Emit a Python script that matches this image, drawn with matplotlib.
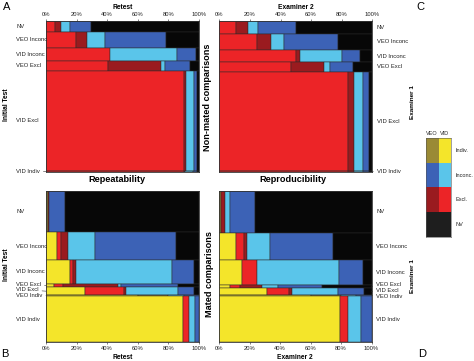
import matplotlib
matplotlib.use('Agg')
import matplotlib.pyplot as plt
import matplotlib.transforms as mtransforms
import numpy as np

plt.rcParams['font.family'] = ['Liberation Sans', 'DejaVu Sans']

# ---------------- data ----------------
categories = ['VID Indiv', 'VEO Indiv', 'VID Excl', 'VEO Excl', 'VID Inconc', 'VEO Inconc', 'NV']
cat_colors = ['#f4e52a', '#9a8a35', '#ec2427', '#9a1b1f', '#5ac5ea', '#3c62b6', '#070707']

nonmated_rows = ['NV', 'VEO Inconc', 'VID Inconc', 'VEO Excl', 'VID Excl', 'VID Indiv']
mated_rows = ['NV', 'VEO Inconc', 'VID Inconc', 'VEO Excl', 'VID Excl', 'VEO Indiv', 'VID Indiv']

# relative row sizes (share of initial-test / examiner-1 decisions)
rep_nonmated_sizes = [33, 50, 38, 29, 301, 4]
repro_nonmated_sizes = [40, 48, 37, 28, 300, 2]
rep_mated_sizes = [125, 83, 72, 10, 23, 3, 139]
repro_mated_sizes = [126, 82, 75, 10, 20, 3, 139]

# percentage of each row going to each category (columns follow `categories`)
rep_nonmated_pct = [
    [0, 0, 5.7, 4.1, 6.1, 13.4, 70.7],
    [0, 0, 19.3, 7.4, 12.0, 39.8, 21.5],
    [0, 0, 42.0, 0, 43.4, 12.4, 2.2],
    [0, 0, 40.2, 35.0, 2.6, 16.3, 5.9],
    [0, 0, 90.4, 1.1, 5.2, 2.2, 1.1],
    [0, 0, 90.0, 1.0, 5.0, 3.0, 1.0],
]
repro_nonmated_pct = [
    [0, 0, 10.9, 8.1, 6.5, 24.4, 50.1],
    [0, 0, 24.8, 8.8, 8.9, 35.3, 22.2],
    [0, 0, 49.9, 2.8, 27.3, 12.0, 8.0],
    [0, 0, 46.8, 21.8, 3.7, 14.8, 12.9],
    [0, 0, 83.9, 4.3, 5.9, 3.9, 2.0],
    [0, 0, 84.0, 4.0, 6.0, 4.0, 2.0],
]
rep_mated_pct = [
    [0, 1.0, 0, 1.0, 0, 10.4, 87.6],
    [7.4, 0, 2.2, 4.6, 17.9, 53.1, 14.8],
    [15.9, 0, 1.7, 2.2, 62.8, 14.4, 3.0],
    [5.2, 0, 6.2, 35.6, 2.0, 37.0, 14.0],
    [25.5, 0, 25.2, 1.7, 33.6, 10.5, 3.5],
    [60.0, 20.0, 0, 0, 10.0, 10.0, 0],
    [89.5, 0, 3.7, 0, 4.0, 2.8, 0],
]
repro_mated_pct = [
    [0, 1.1, 0, 2.6, 3.3, 16.6, 76.4],
    [11.2, 0, 5.2, 2.2, 15.0, 41.0, 25.4],
    [15.2, 0, 9.4, 0, 54.0, 15.9, 5.5],
    [7.0, 0, 6.7, 14.2, 11.0, 28.8, 32.3],
    [31.4, 0, 14.6, 1.8, 30.2, 17.0, 5.0],
    [60.0, 20.0, 0, 0, 10.0, 10.0, 0],
    [79.6, 0, 5.0, 0, 8.2, 7.2, 0],
]

xticks = [0, 20, 40, 60, 80, 100]
xticklabels = ['0%', '20%', '40%', '60%', '80%', '100%']

legend_levels = ['Indiv.', 'Inconc.', 'Excl.', 'NV']
legend_veo = ['#9a8a35', '#3c62b6', '#9a1b1f', '#1e1e1e']
legend_vid = ['#f4e52a', '#5ac5ea', '#ec2427', '#1e1e1e']

# ---------------- figure ----------------
W, H = 474, 361
fig = plt.figure(figsize=(W / 100, H / 100), dpi=100)


def px_axes(x0, y0, x1, y1):
    return fig.add_axes([x0 / W, 1 - y1 / H, (x1 - x0) / W, (y1 - y0) / H])


def mosaic(ax, rows, sizes, pct, top, xlabel, label_side, ax_h_px):
    sizes = np.array(sizes, dtype=float)
    fr = sizes / sizes.sum()
    edges = np.concatenate([[0], np.cumsum(fr)])
    centers = (edges[:-1] + edges[1:]) / 2
    # label positions: spread groups of thin rows
    tiny = fr < 0.055
    label_y = centers.copy()
    spacing = 5.7 / ax_h_px
    i = 0
    while i < len(rows):
        if tiny[i]:
            j = i
            while j + 1 < len(rows) and tiny[j + 1]:
                j += 1
            m = j - i + 1
            if m > 1:
                gc = (edges[i] + edges[j + 1]) / 2
                for k in range(m):
                    label_y[i + k] = gc + (k - (m - 1) / 2) * spacing
            i = j + 1
        else:
            i += 1

    trans = mtransforms.blended_transform_factory(ax.transAxes, ax.transData)
    for i, row in enumerate(rows):
        vals = np.array(pct[i], dtype=float)
        vals = vals / vals.sum() * 100
        left = 0.0
        for j, v in enumerate(vals):
            if v > 0:
                ax.barh(centers[i], v, height=fr[i], left=left, color=cat_colors[j],
                        edgecolor='#2b2b2b', linewidth=0.35)
            left += v
        tx = -0.196 if label_side == 'left' else 1.03
        if tiny[i]:
            ax.annotate(row, xy=(0 if label_side == 'left' else 1, centers[i]), xycoords=trans,
                        xytext=(tx, label_y[i]), textcoords=trans, ha='left', va='center',
                        fontsize=4.2, color='#222222', annotation_clip=False,
                        arrowprops=dict(arrowstyle='-', lw=0.4, color='#333333',
                                        shrinkA=0.5, shrinkB=0))
        else:
            ax.text(tx, label_y[i], row, transform=trans, ha='left', va='center',
                    fontsize=4.2, color='#222222')
    ax.set_xlim(0, 100)
    ax.set_ylim(1, 0)
    ax.set_yticks([])
    ax.set_xticks(xticks)
    ax.set_xticklabels(xticklabels)
    ax.tick_params(axis='x', labelsize=4.2, length=1.5, width=0.4, pad=1.5,
                   colors='#222222')
    if top:
        ax.xaxis.tick_top()
        ax.xaxis.set_label_position('top')
    ax.set_xlabel(xlabel, fontsize=4.8, fontweight='bold', labelpad=2)
    for s in ax.spines.values():
        s.set_linewidth(0.6)
        s.set_color('#333333')


axA = px_axes(46, 20.7, 199, 172)
axC = px_axes(219.3, 20.7, 372.3, 172)
axB = px_axes(46, 190.7, 199, 342.3)
axD = px_axes(219, 190.7, 371.5, 342.3)

mosaic(axA, nonmated_rows, rep_nonmated_sizes, rep_nonmated_pct, True, 'Retest', 'left', 151.3)
mosaic(axC, nonmated_rows, repro_nonmated_sizes, repro_nonmated_pct, True, 'Examiner 2', 'right', 151.3)
mosaic(axB, mated_rows, rep_mated_sizes, rep_mated_pct, False, 'Retest', 'left', 151.6)
mosaic(axD, mated_rows, repro_mated_sizes, repro_mated_pct, False, 'Examiner 2', 'right', 151.6)


def ftext(x, y, s, **kw):
    fig.text(x / W, 1 - y / H, s, **kw)


ftext(117, 180, 'Repeatability', ha='center', va='center', fontsize=6.6, fontweight='bold')
ftext(293, 180, 'Reproducibility', ha='center', va='center', fontsize=6.6, fontweight='bold')
ftext(208, 97, 'Non-mated comparisons', ha='center', va='center', rotation=90,
      fontsize=6.6, fontweight='bold')
ftext(209, 274, 'Mated comparisons', ha='center', va='center', rotation=90,
      fontsize=6.6, fontweight='bold')
ftext(7, 105, 'Initial Test', ha='center', va='center', rotation=90, fontsize=4.8, fontweight='bold')
ftext(7, 265, 'Initial Test', ha='center', va='center', rotation=90, fontsize=4.8, fontweight='bold')
ftext(413, 102, 'Examiner 1', ha='center', va='center', rotation=90, fontsize=4.6, fontweight='bold')
ftext(413, 276, 'Examiner 1', ha='center', va='center', rotation=90, fontsize=4.6, fontweight='bold')
ftext(6.5, 7.5, 'A', ha='center', va='center', fontsize=8)
ftext(5, 354, 'B', ha='center', va='center', fontsize=8)
ftext(420, 7.5, 'C', ha='center', va='center', fontsize=8)
ftext(422, 354, 'D', ha='center', va='center', fontsize=8)

# legend grid
axL = px_axes(426, 138, 451, 237)
n = len(legend_levels)
for i, lvl in enumerate(legend_levels):
    b = n - 1 - i
    if lvl == 'NV':
        axL.bar([0.5], [1], width=2, bottom=b, color=legend_veo[i], edgecolor='none')
    else:
        axL.bar([0, 1], [1, 1], width=1, bottom=b,
                color=[legend_veo[i], legend_vid[i]], edgecolor='none')
    axL.text(1.85, b + 0.5, lvl, ha='left', va='center', fontsize=4, color='#222222')
axL.text(0, n + 0.08, 'VEO', ha='center', va='bottom', fontsize=4, color='#222222')
axL.text(1, n + 0.08, 'VID', ha='center', va='bottom', fontsize=4, color='#222222')
axL.set_xlim(-0.5, 1.5)
axL.set_ylim(0, n)
axL.set_xticks([])
axL.set_yticks([])
for s in axL.spines.values():
    s.set_linewidth(0.4)
    s.set_color('#555555')

fig.savefig('out.png', dpi=100)
